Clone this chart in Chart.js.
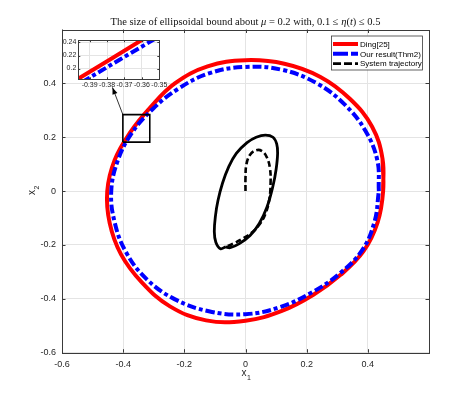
<!DOCTYPE html>
<html>
<head>
<meta charset="utf-8">
<script src="https://cdn.jsdelivr.net/npm/chart.js@4.4.1/dist/chart.umd.min.js"></script>
<style>
  html, body { margin: 0; padding: 0; background: #fff; }
  #wrap { position: relative; width: 474px; height: 396px; }
  #main { position: absolute; left: 0; top: 0; }
  #inset { position: absolute; left: 56px; top: 34px; }
</style>
</head>
<body>
<div id="wrap">
  <canvas id="main" width="474" height="396"></canvas>
  <canvas id="inset" width="116" height="60"></canvas>
</div>
<script>
// --- data ---
const xTicks = [-0.6, -0.4, -0.2, 0, 0.2, 0.4];
const xTickLabels = ['-0.6', '-0.4', '-0.2', '0', '0.2', '0.4'];
const yTicks = [-0.6, -0.4, -0.2, 0, 0.2, 0.4];
const yTickLabels = ['-0.6', '-0.4', '-0.2', '0', '0.2', '0.4'];

// Ding[25] ellipse (red), read every ~15 degrees round the centre
const dingX = [0.450, 0.448, 0.414, 0.342, 0.245, 0.127, 0.000, -0.124, -0.231, -0.311, -0.377, -0.428, -0.452, -0.444, -0.407, -0.339, -0.247, -0.129, 0.000, 0.119, 0.222, 0.311, 0.386, 0.432, 0.450, 0.448];
const dingY = [0.000, 0.120, 0.239, 0.342, 0.424, 0.473, 0.486, 0.463, 0.400, 0.311, 0.218, 0.115, 0.000, -0.119, -0.235, -0.339, -0.428, -0.480, -0.481, -0.445, -0.385, -0.311, -0.223, -0.116, 0.000, 0.120];

// Our result(Thm2) ellipse (blue)
const oursX = [0.436, 0.431, 0.391, 0.323, 0.232, 0.121, 0.000, -0.117, -0.220, -0.304, -0.372, -0.418, -0.439, -0.428, -0.391, -0.325, -0.232, -0.120, 0.000, 0.115, 0.217, 0.307, 0.381, 0.422, 0.436];
const oursY = [0.000, 0.115, 0.226, 0.323, 0.401, 0.450, 0.461, 0.438, 0.380, 0.304, 0.215, 0.112, 0.000, -0.115, -0.226, -0.325, -0.401, -0.446, -0.457, -0.430, -0.376, -0.307, -0.220, -0.113, 0.000];

// system trajectory: start at origin, inner turn
const trajX = [0, 0, 0.003, 0.015, 0.035, 0.055, 0.070, 0.080, 0.082, 0.078, 0.065, 0.045, 0.020, -0.010, -0.040, -0.065];
const trajY = [0, 0.050, 0.100, 0.135, 0.152, 0.148, 0.125, 0.085, 0.030, -0.030, -0.085, -0.125, -0.155, -0.177, -0.195, -0.207];

// system trajectory: settled outer loop
const cycleX = [-0.065, -0.082, -0.097, -0.102, -0.098, -0.090, -0.075, -0.055, -0.030, 0.005, 0.035, 0.065, 0.090, 0.102, 0.105, 0.100, 0.090, 0.070, 0.045, 0.015, -0.020, -0.050, -0.065];
const cycleY = [-0.207, -0.214, -0.190, -0.150, -0.090, -0.035, 0.030, 0.090, 0.140, 0.180, 0.200, 0.208, 0.200, 0.175, 0.140, 0.080, 0.020, -0.060, -0.120, -0.165, -0.195, -0.210, -0.207];

// zoom box and arrow
const boxX = [-0.401, -0.313, -0.313, -0.401, -0.401];
const boxY = [0.182, 0.182, 0.284, 0.284, 0.182];
const arrowX = [-0.401, -0.435];
const arrowY = [0.284, 0.385];

// inset
const insetXTicks = [-0.39, -0.38, -0.37, -0.36, -0.35];
const insetXLabels = ['-0.39', '-0.38', '-0.37', '-0.36', '-0.35'];
const insetYTicks = [0.2, 0.22, 0.24];
const insetYLabels = ['0.2', '0.22', '0.24'];
const insetDingX = [-0.3998, -0.3785, -0.3575];
const insetDingY = [0.179, 0.2135, 0.248];
const insetOursX = [-0.3944, -0.3728, -0.3510];
const insetOursY = [0.179, 0.2135, 0.248];

const pts = (xs, ys) => xs.map((x, i) => ({ x: x, y: ys[i] }));

const RED = '#ff0000';
const BLUE = '#0000ff';
const BLUE_DASH = [9, 3, 4, 3];
const BLACK_DASH = [6, 3];
const AXIS = '#3a3a3a';
const GRID = '#e4e4e4';
const SANS = 'Liberation Sans, Arial, sans-serif';

function framePlugin(tickLen, fillAll) {
  return {
    id: 'frame',
    beforeDraw(chart) {
      const { ctx, chartArea: a } = chart;
      ctx.save();
      ctx.fillStyle = '#fff';
      if (fillAll) ctx.fillRect(0, 0, chart.width, chart.height);
      else ctx.fillRect(a.left, a.top, a.right - a.left, a.bottom - a.top);
      ctx.restore();
    },
    afterDraw(chart) {
      const { ctx, chartArea: a, scales } = chart;
      ctx.save();
      ctx.strokeStyle = AXIS;
      ctx.lineWidth = 1;
      ctx.beginPath();
      scales.x.ticks.forEach(t => {
        const px = Math.round(scales.x.getPixelForValue(t.value)) + 0.5;
        ctx.moveTo(px, a.bottom); ctx.lineTo(px, a.bottom - tickLen);
        ctx.moveTo(px, a.top); ctx.lineTo(px, a.top + tickLen);
      });
      scales.y.ticks.forEach(t => {
        const py = Math.round(scales.y.getPixelForValue(t.value)) + 0.5;
        ctx.moveTo(a.left, py); ctx.lineTo(a.left + tickLen, py);
        ctx.moveTo(a.right, py); ctx.lineTo(a.right - tickLen, py);
      });
      ctx.stroke();
      ctx.strokeRect(Math.round(a.left) + 0.5, Math.round(a.top) + 0.5,
        Math.round(a.right - a.left), Math.round(a.bottom - a.top));
      ctx.restore();
    }
  };
}

const decor = {
  id: 'decor',
  afterDraw(chart) {
    const { ctx, chartArea: a, scales } = chart;
    ctx.save();

    // arrow head
    const ds = chart.data.datasets.find(d => d.arrow);
    const p0 = ds.data[0], p1 = ds.data[1];
    const x0 = scales.x.getPixelForValue(p0.x), y0 = scales.y.getPixelForValue(p0.y);
    const x1 = scales.x.getPixelForValue(p1.x), y1 = scales.y.getPixelForValue(p1.y);
    const ang = Math.atan2(y1 - y0, x1 - x0);
    ctx.fillStyle = '#000';
    ctx.beginPath();
    ctx.moveTo(x1, y1);
    ctx.lineTo(x1 - 7 * Math.cos(ang) + 2.6 * Math.sin(ang), y1 - 7 * Math.sin(ang) - 2.6 * Math.cos(ang));
    ctx.lineTo(x1 - 7 * Math.cos(ang) - 2.6 * Math.sin(ang), y1 - 7 * Math.sin(ang) + 2.6 * Math.cos(ang));
    ctx.closePath();
    ctx.fill();

    // title with italic symbols
    const parts = [['The size of ellipsoidal bound about ', false], ['μ', true], [' = 0.2 with, 0.1 ≤ ', false],
                   ['η', true], ['(', false], ['t', true], [') ≤ 0.5', false]];
    const fnt = it => (it ? 'italic ' : '') + '10.5px "Liberation Serif", "Times New Roman", serif';
    let w = 0;
    parts.forEach(p => { ctx.font = fnt(p[1]); w += ctx.measureText(p[0]).width; });
    let tx = (a.left + a.right) / 2 - w / 2;
    ctx.fillStyle = '#111';
    ctx.textBaseline = 'alphabetic';
    ctx.textAlign = 'left';
    parts.forEach(p => { ctx.font = fnt(p[1]); ctx.fillText(p[0], tx, 25); tx += ctx.measureText(p[0]).width; });

    // axis labels x1, x2
    ctx.fillStyle = '#262626';
    ctx.font = '10px ' + SANS;
    ctx.textBaseline = 'alphabetic';
    const cx = (a.left + a.right) / 2;
    ctx.fillText('x', cx - 4, 376);
    ctx.font = '7px ' + SANS;
    ctx.fillText('1', cx + 1.5, 380);
    ctx.save();
    ctx.translate(35, (a.top + a.bottom) / 2);
    ctx.rotate(-Math.PI / 2);
    ctx.font = '10px ' + SANS;
    ctx.fillText('x', -4, 0);
    ctx.font = '7px ' + SANS;
    ctx.fillText('2', 1.5, 4);
    ctx.restore();

    // legend inside the axes
    const L = { x: 331, y: 35.5, w: 91, h: 34 };
    ctx.fillStyle = '#fff';
    ctx.fillRect(L.x, L.y, L.w, L.h);
    ctx.strokeStyle = AXIS;
    ctx.lineWidth = 0.8;
    ctx.strokeRect(L.x + 0.5, L.y + 0.5, L.w, L.h);
    const rows = chart.data.datasets.filter(d => d.inLegend);
    rows.forEach((d, i) => {
      const yy = 44 + i * 9.8;
      ctx.strokeStyle = d.borderColor;
      ctx.lineWidth = d.borderWidth;
      ctx.setLineDash(d.legendDash || []);
      ctx.beginPath();
      ctx.moveTo(333, yy); ctx.lineTo(358, yy);
      ctx.stroke();
      ctx.setLineDash([]);
      ctx.fillStyle = '#000';
      ctx.font = '8px ' + SANS;
      ctx.textBaseline = 'middle';
      ctx.fillText(d.label, 360, yy + 0.5);
    });
    ctx.restore();
  }
};

const mainChart = new Chart(document.getElementById('main'), {
  type: 'line',
  data: {
    datasets: [
      { label: 'Ding[25]', inLegend: true, data: pts(dingX, dingY), borderColor: RED, borderWidth: 4, tension: 0.4, order: 4 },
      { label: 'Our result(Thm2)', inLegend: true, data: pts(oursX, oursY), borderColor: BLUE, borderWidth: 4, borderDash: BLUE_DASH, legendDash: [15, 3], tension: 0.4, order: 3 },
      { label: 'System trajectory', inLegend: true, data: pts(trajX, trajY), borderColor: '#000', borderWidth: 2.6, borderDash: BLACK_DASH, legendDash: [8, 3], tension: 0.4, order: 2 },
      { label: 'cycle', data: pts(cycleX, cycleY), borderColor: '#000', borderWidth: 2.8, tension: 0.4, order: 1 },
      { label: 'box', data: pts(boxX, boxY), borderColor: '#000', borderWidth: 1.6, tension: 0, order: 0 },
      { label: 'arrow', arrow: true, data: pts(arrowX, arrowY), borderColor: '#000', borderWidth: 0.8, tension: 0, order: 0 }
    ]
  },
  options: {
    responsive: false,
    animation: false,
    devicePixelRatio: 1,
    elements: { point: { radius: 0 } },
    layout: { padding: { left: 32, right: 45, top: 29.5, bottom: 23.3 } },
    plugins: { legend: { display: false }, title: { display: false }, tooltip: { enabled: false } },
    scales: {
      x: {
        type: 'linear', min: -0.6, max: 0.6,
        afterBuildTicks: s => { s.ticks = xTicks.map(v => ({ value: v })); },
        afterFit: s => { s.height = 20; },
        grid: { color: GRID, drawTicks: false, lineWidth: 1 },
        border: { display: false },
        ticks: { color: '#262626', font: { family: SANS, size: 9 }, padding: 6, maxRotation: 0,
                 callback: (v, i) => xTickLabels[i] }
      },
      y: {
        type: 'linear', min: -0.6, max: 0.6,
        afterBuildTicks: s => { s.ticks = yTicks.map(v => ({ value: v })); },
        afterFit: s => { s.width = 30; },
        grid: { color: GRID, drawTicks: false, lineWidth: 1 },
        border: { display: false },
        ticks: { color: '#262626', font: { family: SANS, size: 9 }, padding: 6,
                 callback: (v, i) => yTickLabels[i] }
      }
    }
  },
  plugins: [framePlugin(3.5, true), decor]
});

const insetChart = new Chart(document.getElementById('inset'), {
  type: 'line',
  data: {
    datasets: [
      { label: 'Ding[25]', data: pts(insetDingX, insetDingY), borderColor: RED, borderWidth: 4, tension: 0, order: 2 },
      { label: 'Our result(Thm2)', data: pts(insetOursX, insetOursY), borderColor: BLUE, borderWidth: 4, borderDash: BLUE_DASH, tension: 0, order: 1 }
    ]
  },
  options: {
    responsive: false,
    animation: false,
    devicePixelRatio: 1,
    elements: { point: { radius: 0 } },
    layout: { padding: { left: 6.3, right: 12.7, top: 3.7, bottom: 2.7 } },
    plugins: { legend: { display: false }, title: { display: false }, tooltip: { enabled: false } },
    scales: {
      x: {
        type: 'linear', min: -0.3965, max: -0.35,
        afterBuildTicks: s => { s.ticks = insetXTicks.map(v => ({ value: v })); },
        afterFit: s => { s.height = 12; },
        grid: { color: GRID, drawTicks: false },
        border: { display: false },
        ticks: { color: '#262626', font: { family: SANS, size: 7 }, padding: 2, maxRotation: 0,
                 callback: (v, i) => insetXLabels[i] }
      },
      y: {
        type: 'linear', min: 0.1835, max: 0.2435,
        afterBuildTicks: s => { s.ticks = insetYTicks.map(v => ({ value: v })); },
        afterFit: s => { s.width = 16; },
        grid: { color: GRID, drawTicks: false },
        border: { display: false },
        ticks: { color: '#262626', font: { family: SANS, size: 7 }, padding: 2,
                 callback: (v, i) => insetYLabels[i] }
      }
    }
  },
  plugins: [framePlugin(2, false)]
});
</script>
</body>
</html>
